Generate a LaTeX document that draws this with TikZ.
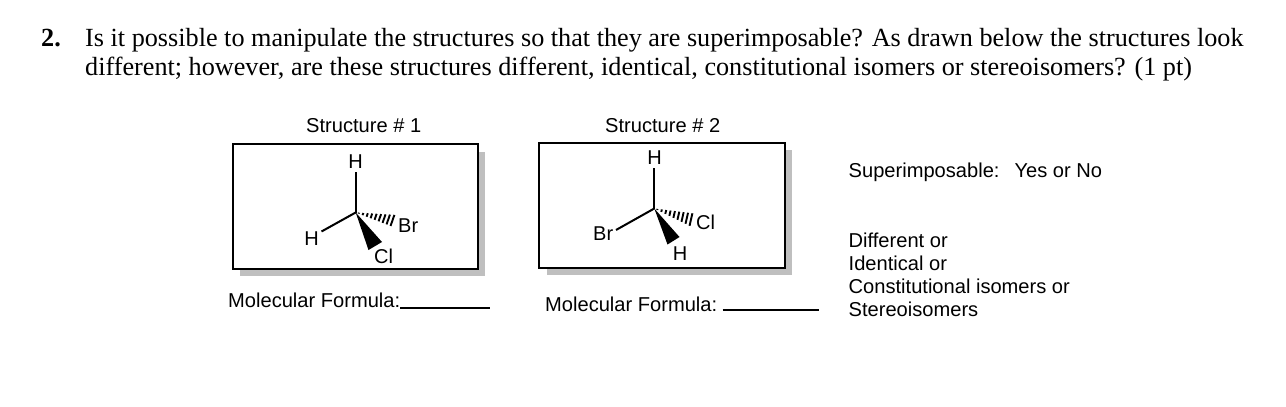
\documentclass[tikz,border=0pt]{standalone}
\usepackage{fontspec}
\setmainfont{Liberation Serif}
\setsansfont{Liberation Sans}
\usetikzlibrary{calc}
\tikzset{
  x=1pt,y=-1pt,
  serifline/.style={anchor=base west,inner sep=0pt,font=\rmfamily\fontsize{26.2}{29}\selectfont},
  lab/.style={anchor=base west,inner sep=0pt,font=\sffamily\fontsize{20.1}{22}\selectfont},
  atom/.style={anchor=center,inner sep=0pt,font=\sffamily\fontsize{20}{22}\selectfont},
  framebox/.style={draw=black,line width=2pt,fill=white},
  shadowbox/.style={fill=black!25,draw=none},
  bond/.style={line width=2pt,draw=black},
  wedge/.style={fill=black,draw=none},
  hash/.style={line width=1.9pt,draw=black},
  rule/.style={line width=1.8pt,draw=black}
}
\newcommand{\hashbond}[3]{%
  \foreach \t in {0.08,0.19,0.30,0.41,0.52,0.63,0.74,0.85,0.96}
    \draw[hash] ($(#1)!\t!(#2)$) -- ($(#1)!\t!(#3)$);}
\begin{document}
\begin{tikzpicture}
\useasboundingbox (0,0) rectangle (1286,407);
\fill[white] (0,0) rectangle (1286,407);

\node[serifline,font=\rmfamily\bfseries\fontsize{26.2}{29}\selectfont] (num) at (41,46) {2.};
\node[serifline] (l1) at (85,46) {Is it possible to manipulate the structures so that they are superimposable? As drawn below the structures look};
\node[serifline] (l2) at (85,75) {different; however, are these structures different, identical, constitutional isomers or stereoisomers? (1 pt)};

% Structure 1
\node[lab] (t1) at (306,132) {Structure \# 1};
\fill[shadowbox] (240,152) rectangle (485,276);
\draw[framebox] (233,144) rectangle (478,269);
\coordinate (c1) at (355.7,212.5);
\coordinate (c1up) at (355.7,171.5);
\coordinate (c1left) at (321.5,231.5);
\coordinate (c1wa) at (368.5,250);
\coordinate (c1wb) at (382,242);
\coordinate (c1ha) at (392,226.5);
\coordinate (c1hb) at (396,215);
\draw[bond] (c1) -- (c1up);
\draw[bond] (c1) -- (c1left);
\fill[wedge] (c1) -- (c1wa) -- (c1wb) -- cycle;
\hashbond{c1}{c1ha}{c1hb}
\node[atom] (h1a) at (355.5,162) {H};
\node[atom] (h1b) at (311.5,238.5) {H};
\node[atom,anchor=base west] (br1) at (398,232.5) {Br};
\node[atom,anchor=base west] (cl1) at (374,263.5) {Cl};
\node[lab] (mf1) at (228,307) {Molecular Formula:};
\coordinate (r1a) at (400,308);
\coordinate (r1b) at (490,308);
\draw[rule] (r1a) -- (r1b);

% Structure 2
\node[lab] (t2) at (605,132) {Structure \# 2};
\fill[shadowbox] (547,150) rectangle (792,275);
\draw[framebox] (539,143) rectangle (785,268);
\coordinate (c2) at (654.3,208.5);
\coordinate (c2up) at (654.3,168);
\coordinate (c2left) at (616,230);
\coordinate (c2wa) at (667.5,244.5);
\coordinate (c2wb) at (679.5,237);
\coordinate (c2ha) at (691,226.5);
\coordinate (c2hb) at (694,213.5);
\draw[bond] (c2) -- (c2up);
\draw[bond] (c2) -- (c2left);
\fill[wedge] (c2) -- (c2wa) -- (c2wb) -- cycle;
\hashbond{c2}{c2ha}{c2hb}
\node[atom] (h2a) at (654.5,158) {H};
\node[atom,anchor=base west] (br2) at (593,240.5) {Br};
\node[atom,anchor=base west] (cl2) at (696,229.5) {Cl};
\node[atom] (h2b) at (680,253.5) {H};
\node[lab] (mf2) at (545,311) {Molecular Formula:};
\coordinate (r2a) at (722.5,310);
\coordinate (r2b) at (819,310);
\draw[rule] (r2a) -- (r2b);

% Right column
\node[lab] (sup) at (848.5,177) {Superimposable:\hspace{15pt}Yes or No};
\node[lab] (d1) at (848.5,247) {Different or};
\node[lab] (d2) at (848.5,270) {Identical or};
\node[lab] (d3) at (848.5,293) {Constitutional isomers or};
\node[lab] (d4) at (848.5,316) {Stereoisomers};
\end{tikzpicture}
\end{document}
